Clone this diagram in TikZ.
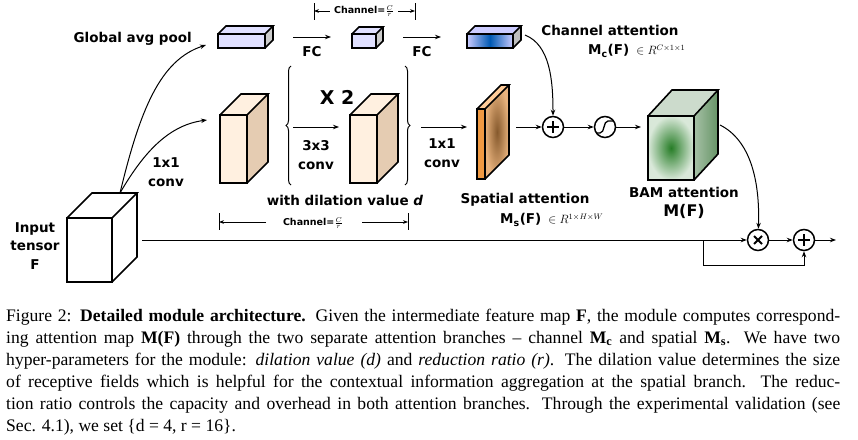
\documentclass[tikz,border=0pt]{standalone}
\usepackage{fontspec}
\setmainfont{Liberation Serif}
\newfontfamily\lab{DejaVu Sans}
\usetikzlibrary{decorations.pathreplacing,arrows.meta}
\newcommand\mycube[9]{% x y w h d front top side name
 \fill[#6] (#1,#2) rectangle ++(#3,#4);
 \fill[#7] (#1,#2) -- ++(#5,-#5) -- ++(#3,0) -- ++(-#5,#5) -- cycle;
 \fill[#8] (#1+#3,#2) -- ++(#5,-#5) -- ++(0,#4) -- ++(-#5,#5) -- cycle;
 \draw[cube] (#1,#2) rectangle ++(#3,#4);
 \draw[cube] (#1,#2) -- ++(#5,-#5) -- ++(#3,0) -- ++(-#5,#5);
 \draw[cube] (#1+#3,#2+#4) -- ++(#5,-#5) -- ++(0,-#4);
 \coordinate (#9) at (#1+#3+#5,#2);
}
\begin{document}
\begin{tikzpicture}[x=1pt,y=-1pt,
 cube/.style={line width=1.6pt,line join=miter},
 arr/.style={-{Stealth[length=6pt,width=4.5pt]},line width=1pt},
 ln/.style={line width=1pt},
 lb/.style={font=\lab\bfseries\fontsize{13.5}{18.5}\selectfont,inner sep=0pt,align=center},
 op/.style={circle,draw,line width=1.5pt,minimum size=21pt,inner sep=0pt},
 chl/.style={inner sep=0pt,font=\lab\bfseries\fontsize{9.5}{10}\selectfont},
 captxt/.style={anchor=west,inner sep=0pt,font=\fontsize{17.6}{20}\selectfont}]
\useasboundingbox (0,0) rectangle (858,439);
% input tensor
\mycube{67}{218}{45}{64}{25}{white}{white}{white}{inp}
\node[lb] (tin) at (35,246) {Input\\tensor\\F};
\coordinate (src) at (120,193);
% GAP
\mycube{218}{34}{47}{14}{8}{blue!12}{blue!12}{gray!40}{gap}
\node[lb,anchor=east] (gapl) at (192,39) {Global avg pool};
\draw[arr] (src) .. controls (140,110) and (160,60) .. (206,45);
% FC1
\coordinate (fa1) at (293,37); \coordinate (fb1) at (331,37);
\draw[arr] (fa1) -- (fb1);
\node[lb] (fc1) at (312,52) {FC};
\mycube{352}{34}{24}{14}{7}{blue!12}{blue!12}{gray!40}{sb}
\coordinate (fa2) at (403,37); \coordinate (fb2) at (441,37);
\draw[arr] (fa2) -- (fb2);
\node[lb] (fc2) at (422,52) {FC};
% top channel bracket
\coordinate (t1) at (314,11); \coordinate (t2) at (415,11);
\draw[ln] (314,3) -- (314,20) (415,3) -- (415,20);
\node[chl] (tc) at (364,11) {Channel=$\frac{C}{r}$};
\draw[-{Stealth[length=5pt]},line width=0.8pt] ([xshift=-4pt]tc.west) -- (t1);
\draw[-{Stealth[length=5pt]},line width=0.8pt] ([xshift=4pt]tc.east) -- (t2);
% blue channel attention
\shade[left color=blue!20!white,right color=blue!20!white,middle color=blue!50!cyan!70!black] (467,34) rectangle (513,48);
\fill[blue!20!white] (467,34) -- ++(8,-8) -- ++(46,0) -- ++(-8,8) -- cycle;
\fill[gray!50] (513,34) -- ++(8,-8) -- ++(0,14) -- ++(-8,8) -- cycle;
\draw[cube] (467,34) rectangle (513,48);
\draw[cube] (467,34) -- ++(8,-8) -- ++(46,0) -- ++(-8,8);
\draw[cube] (513,48) -- ++(8,-8) -- ++(0,-14);
\coordinate (bl) at (525,35);
\node[lb] (cal) at (610,30) {Channel attention};
\node[lb,anchor=west] (mcl) at (588,51) {M\textsubscript{c}(F)\, \normalfont\fontsize{12}{14}\selectfont$\in R^{C\times1\times1}$};
% conv branch
\draw[arr] (src) .. controls (145,150) and (170,125) .. (207,120);
\node[lb] (c11) at (166,172) {1x1\\conv};
\mycube{220}{115}{27}{68}{21}{orange!12}{orange!12}{brown!40}{p1}
\mycube{350}{115}{27}{68}{21}{orange!12}{orange!12}{brown!40}{p2}
\draw[decorate,decoration={brace,amplitude=5pt},line width=1pt] (291,185) -- (291,66);
\draw[decorate,decoration={brace,amplitude=5pt},line width=1pt] (405,66) -- (405,185);
\node[font=\lab\bfseries\fontsize{19}{22}\selectfont] (x2) at (337,97) {X 2};
\draw[arr] (293,127) -- (339,127);
\node[lb] (c33) at (316,155) {3x3\\conv};
\node[lb] (dil) at (345,200) {with dilation value \textit{d}};
% bottom bracket
\coordinate (b1) at (219,222); \coordinate (b2) at (408,222);
\draw[ln] (219,213) -- (219,230) (408,213) -- (408,230);
\node[chl] (bc) at (313,223) {Channel=$\frac{C}{r}$};
\draw[-{Stealth[length=5pt]},line width=0.8pt] (266,222) -- (b1);
\draw[-{Stealth[length=5pt]},line width=0.8pt] (362,222) -- (b2);
\draw[arr] (421,127) -- (467,127);
\node[lb] (c12) at (442,153) {1x1\\conv};
% spatial map
\shade[inner color=brown!70!black,outer color=orange!40!brown!60] (485,109) -- (509,85) -- (509,155) -- (485,179) -- cycle;
\fill[orange!70!brown!80] (477,109) rectangle (485,179);
\fill[orange!40] (477,109) -- (501,85) -- (509,85) -- (485,109) -- cycle;
\draw[cube] (477,109) rectangle (485,179);
\draw[cube] (477,109) -- (501,85) -- (509,85) -- (485,109);
\draw[cube] (485,179) -- (509,155) -- (509,85);
\node[lb] (sal) at (525,200) {Spatial attention};
\node[lb,anchor=west] (msl) at (500,220) {M\textsubscript{s}(F)\, \normalfont\fontsize{12}{14}\selectfont$\in R^{1\times H\times W}$};
% ops
\node[op] (plus1) at (553,127) {};
\draw[line width=2pt] (plus1.center) ++(-6,0) -- ++(12,0) (plus1.center) ++(0,-6) -- ++(0,12);
\node[op] (sig) at (605,127) {};
\draw[line width=1.3pt] (597,133) -- (600,133) .. controls (605,133) and (603,121) .. (608,121) -- (613,121);
\draw[arr] (516,127) -- (plus1);
\draw[arr] (plus1) -- (sig);
\draw[arr] (sig) -- (641,127);
\draw[arr] (bl) .. controls (550,45) and (553,80) .. (plus1);
% green cube
\shade[inner color=green!40!black!85,outer color=green!40!black!15] (648,116) rectangle (694,180);
\shade[left color=green!30!black!35,right color=green!30!black!60] (694,116) -- (718,90) -- (718,154) -- (694,180) -- cycle;
\fill[green!30!black!20] (648,116) -- (672,90) -- (718,90) -- (694,116) -- cycle;
\draw[cube] (648,116) rectangle (694,180);
\draw[cube] (648,116) -- (672,90) -- (718,90) -- (694,116);
\draw[cube] (694,180) -- (718,154) -- (718,90);
\coordinate (gr) at (720,125);
\node[lb] (baml) at (684,203) {BAM attention\\\fontsize{16}{20}\selectfont M(F)};
% bottom ops
\node[op] (mul) at (758,240) {};
\draw[line width=2pt] (mul.center) ++(-4,-4) -- ++(8,8) (mul.center) ++(-4,4) -- ++(8,-8);
\node[op] (plus2) at (804,240) {};
\draw[line width=2pt] (plus2.center) ++(-6,0) -- ++(12,0) (plus2.center) ++(0,-6) -- ++(0,12);
\draw[arr] (gr) .. controls (750,140) and (760,180) .. (mul);
\coordinate (mainA) at (142,240);
\draw[arr] (mainA) -- (mul);
\draw[arr] (mul) -- (plus2);
\coordinate (out) at (836,240);
\draw[arr] (plus2) -- (out);
\coordinate (br) at (703,240);
\draw[arr] (br) -- (703,265) -- (804,265) -- (plus2);
% caption
\node[captxt] (l1) at (6,317) {\makebox[834pt][s]{Figure 2: \textbf{Detailed module architecture.} Given the intermediate feature map \textbf{F}, the module computes correspond-}};
\node[captxt] (l2) at (6,339) {\makebox[834pt][s]{ing attention map \textbf{M(F)} through the two separate attention branches -- channel \textbf{M\textsubscript{c}} and spatial \textbf{M\textsubscript{s}}. We have two}};
\node[captxt] (l3) at (6,361) {\makebox[834pt][s]{hyper-parameters for the module: \textit{dilation value (d)} and \textit{reduction ratio (r)}. The dilation value determines the size}};
\node[captxt] (l4) at (6,383) {\makebox[834pt][s]{of receptive fields which is helpful for the contextual information aggregation at the spatial branch. The reduc-}};
\node[captxt] (l5) at (6,405) {\makebox[834pt][s]{tion ratio controls the capacity and overhead in both attention branches. Through the experimental validation (see}};
\node[captxt] (l6) at (6,427) {Sec. 4.1), we set \{d = 4, r = 16\}.};
\end{tikzpicture}
\end{document}
